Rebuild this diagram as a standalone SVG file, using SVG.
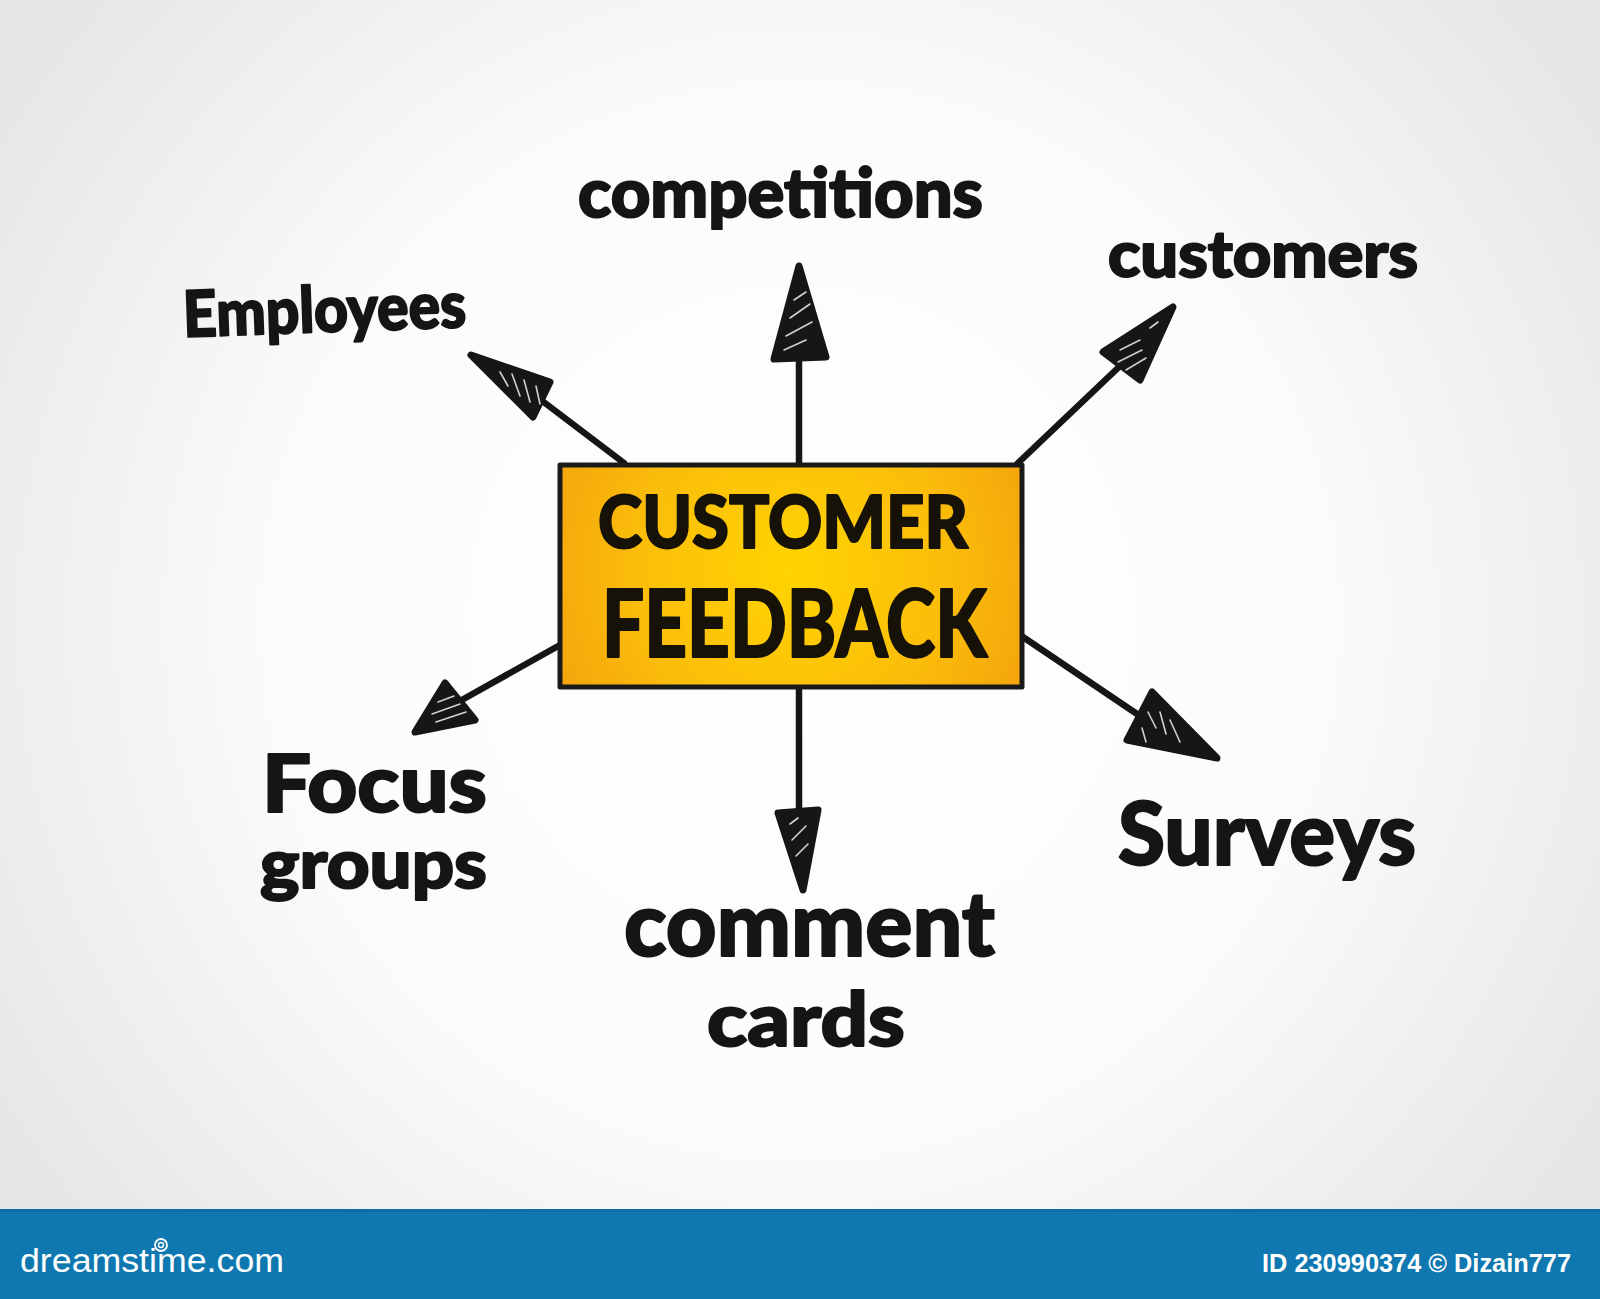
<svg xmlns="http://www.w3.org/2000/svg" width="1600" height="1299" viewBox="0 0 1600 1299">
<defs>
  <radialGradient id="bg" cx="800" cy="620" r="950" gradientUnits="userSpaceOnUse">
    <stop offset="0" stop-color="#ffffff"/>
    <stop offset="0.55" stop-color="#fbfbfb"/>
    <stop offset="1" stop-color="#e6e6e8"/>
  </radialGradient>
  <radialGradient id="boxfill" cx="790" cy="570" r="260" gradientUnits="userSpaceOnUse">
    <stop offset="0" stop-color="#ffd400"/>
    <stop offset="0.6" stop-color="#fbbd0a"/>
    <stop offset="1" stop-color="#f4a40c"/>
  </radialGradient>
  <style>
    .hand { font-family: Lato, "Open Sans", "DejaVu Sans", sans-serif; font-weight: 900; fill: #151515; stroke: #151515; stroke-width: 2; stroke-linejoin: round; }
    .box { font-family: Lato, "Open Sans", "DejaVu Sans", sans-serif; font-weight: 900; fill: #161208; stroke: #161208; stroke-width: 2; stroke-linejoin: round; }
    .line { stroke: #151515; stroke-width: 6.5; stroke-linecap: round; fill: none; }
    .head { fill: #161616; stroke: #161616; stroke-width: 7; stroke-linejoin: round; }
    .hatch { stroke: #ffffff; stroke-width: 1.6; stroke-linecap: round; fill: none; opacity: 0.8; }
    .foot { font-family: "Liberation Sans", Arial, sans-serif; fill: #ffffff; }
  </style>
</defs>

<rect x="0" y="0" width="1600" height="1299" fill="url(#bg)"/>

<g id="connectors">
  <!-- competitions -->
  <line class="line" x1="799" y1="464" x2="799" y2="356"/>
  <path class="head" d="M799,266 L826,357 L774,359 Z"/>
  <path class="hatch" d="M794,300 L806,292 M790,318 L810,304 M786,336 L812,322 M784,350 L806,340"/>
  <!-- employees -->
  <line class="line" x1="624" y1="463" x2="541" y2="400"/>
  <path class="head" d="M471,355 L550,382 L533,417 Z"/>
  <path class="hatch" d="M500,372 L508,386 M512,374 L520,396 M524,380 L530,402 M536,386 L540,404"/>
  <!-- customers -->
  <line class="line" x1="1017" y1="464" x2="1120" y2="366"/>
  <path class="head" d="M1173,307 L1140,380 L1103,352 Z"/>
  <path class="hatch" d="M1120,350 L1140,340 M1118,362 L1142,350 M1126,370 L1146,358 M1150,328 L1158,322"/>
  <!-- focus groups -->
  <line class="line" x1="560" y1="645" x2="460" y2="701"/>
  <path class="head" d="M415,732 L445,683 L475,720 Z"/>
  <path class="hatch" d="M438,702 L454,696 M432,714 L460,704 M436,722 L466,712"/>
  <!-- surveys -->
  <line class="line" x1="1020" y1="635" x2="1140" y2="716"/>
  <path class="head" d="M1217,758 L1152,692 L1127,740 Z"/>
  <path class="hatch" d="M1148,712 L1156,728 M1160,712 L1166,734 M1170,720 L1180,742 M1142,728 L1146,742"/>
  <!-- comment cards -->
  <line class="line" x1="799" y1="687" x2="799" y2="812"/>
  <path class="head" d="M803,890 L818,810 L778,813 Z"/>
  <path class="hatch" d="M790,824 L798,818 M792,840 L806,826 M796,856 L808,844"/>
</g>

<g id="center-node">
  <rect x="560" y="465" width="462" height="222" fill="url(#boxfill)" stroke="#1a1a1a" stroke-width="5" stroke-linejoin="round"/>
  <text class="box" x="598" y="548" font-size="72" textLength="370" lengthAdjust="spacingAndGlyphs">CUSTOMER</text>
  <text class="box" x="602" y="657" font-size="94" textLength="385" lengthAdjust="spacingAndGlyphs">FEEDBACK</text>
</g>

<g id="node-competitions">
  <text class="hand" x="578" y="217" font-size="68" textLength="405" lengthAdjust="spacingAndGlyphs">competitions</text>
</g>

<g id="node-customers">
  <text class="hand" x="1108" y="277" font-size="64" textLength="310" lengthAdjust="spacingAndGlyphs">customers</text>
</g>

<g id="node-employees">
  <text class="hand" x="183" y="332" font-size="64" textLength="283" lengthAdjust="spacingAndGlyphs" transform="rotate(-2 324 312)">Employees</text>
</g>

<g id="node-focus-groups">
  <text class="hand" x="262" y="812" font-size="80" textLength="225" lengthAdjust="spacingAndGlyphs">Focus</text>
  <text class="hand" x="260" y="888" font-size="68" textLength="227" lengthAdjust="spacingAndGlyphs">groups</text>
</g>

<g id="node-surveys">
  <text class="hand" x="1118" y="865" font-size="88" textLength="298" lengthAdjust="spacingAndGlyphs">Surveys</text>
</g>

<g id="node-comment-cards">
  <text class="hand" x="624" y="956" font-size="90" textLength="371" lengthAdjust="spacingAndGlyphs">comment</text>
  <text class="hand" x="707" y="1046" font-size="74" textLength="198" lengthAdjust="spacingAndGlyphs">cards</text>
</g>

<g id="footer">
  <rect x="0" y="1209" width="1600" height="90" fill="#0f78b0"/>
  <rect x="0" y="1209" width="1600" height="3" fill="#0c6ea5"/>
  <text class="foot" x="20" y="1272" font-size="33" textLength="264" lengthAdjust="spacingAndGlyphs">dreamstime.com</text>
  <circle cx="161" cy="1245" r="6" fill="none" stroke="#ffffff" stroke-width="1.8"/>
  <circle cx="161" cy="1245" r="2.5" fill="none" stroke="#ffffff" stroke-width="1.4"/>
  <text class="foot" x="1262" y="1272" font-size="25" font-weight="700" textLength="309" lengthAdjust="spacingAndGlyphs">ID 230990374 © Dizain777</text>
</g>
</svg>
